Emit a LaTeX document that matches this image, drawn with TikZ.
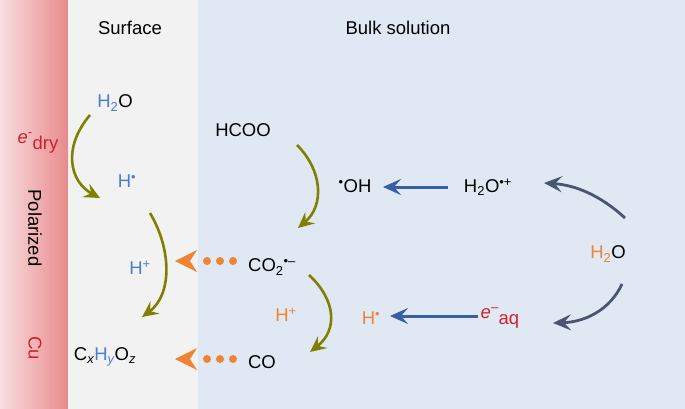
\documentclass[tikz,border=0pt]{standalone}
\usepackage{fontspec}
\setmainfont{Liberation Sans}
\usetikzlibrary{arrows.meta}
\definecolor{olv}{RGB}{128,128,0}
\definecolor{bl}{RGB}{58,93,168}
\definecolor{sl}{RGB}{72,86,112}
\definecolor{orn}{RGB}{238,132,52}
\definecolor{rd}{RGB}{208,32,42}
\definecolor{bt}{RGB}{74,127,208}
\definecolor{pk}{RGB}{248,222,224}
\definecolor{pr}{RGB}{232,138,140}
\definecolor{bbg}{RGB}{223,232,243}
\definecolor{gbg}{RGB}{242,242,242}
\begin{document}
\begin{tikzpicture}[x=1pt,y=-1pt,
 t/.style={font=\fontsize{18.5}{20}\selectfont,inner sep=0pt},
 ol/.style={draw=olv,line width=2.6pt,-{Stealth[length=16pt,width=15pt,inset=6pt]}},
 ba/.style={draw=bl,line width=3pt,-{Stealth[length=18pt,width=16pt,inset=7pt]}},
 sa/.style={draw=sl,line width=2.8pt,-{Stealth[length=18pt,width=16pt,inset=7pt]}},
 dot/.style={circle,fill=orn,inner sep=0pt,minimum size=8pt}]
\useasboundingbox (0,0) rectangle (685,409);
\shade[left color=pk,right color=pr] (0,0) rectangle (68,409);
\fill[gbg] (68,0) rectangle (198,409);
\fill[bbg] (198,0) rectangle (685,409);
\node[t] (surf) at (130,28) {Surface};
\node[t] (bulk) at (398,28) {Bulk solution};
\node[t,rotate=-90] (pol) at (35,228) {Polarized};
\node[t,rotate=-90,text=rd] (cu) at (35,348) {Cu};
\node[t,text=rd] (edry) at (38,143) {\textit{e}\textsuperscript{-}\raisebox{-0.6ex}{dry}};
\node[t] (h2o) at (115,103) {\textcolor{bt}{H\textsubscript{2}}O};
\node[t,text=bt] (hr) at (127,181) {H\textsuperscript{\textbullet}};
\node[t,text=bt] (hp) at (140,268) {H\textsuperscript{+}};
\node[t] (cxhy) at (105,357) {C\textsubscript{\itshape x}\textcolor{bt}{H\textsubscript{\itshape y}}O\textsubscript{\itshape z}};
\node[t] (hcoo) at (243,130) {HCOO};
\node[t] (co2) at (272,267) {CO\textsubscript{2}\textsuperscript{\textbullet–}};
\node[t,text=orn] (hp2) at (286,315) {H\textsuperscript{+}};
\node[t] (co) at (262,362) {CO};
\node[t] (oh) at (355,186) {\textsuperscript{\textbullet}OH};
\node[t] (h2op) at (488,187) {H\textsubscript{2}O\textsuperscript{\textbullet+}};
\node[t] (h2o2) at (608,254) {\textcolor{orn}{H\textsubscript{2}}O};
\node[t,text=orn] (hr2) at (371,318) {H\textsuperscript{\textbullet}};
\node[t,text=rd] (eaq) at (500,318) {\textit{e}\textsuperscript{–}\raisebox{-0.6ex}{aq}};
\coordinate (a1s) at (90,115); \coordinate (a1e) at (100,198);
\coordinate (a2s) at (150,213); \coordinate (a2e) at (142,317);
\coordinate (a3s) at (297,145); \coordinate (a3e) at (298,228);
\coordinate (a4s) at (309,275); \coordinate (a4e) at (310,352);
\draw[ol] (a1s) .. controls (62,148) and (70,182) .. (a1e);
\draw[ol] (a2s) .. controls (172,250) and (172,295) .. (a2e);
\draw[ol] (a3s) .. controls (322,170) and (325,205) .. (a3e);
\draw[ol] (a4s) .. controls (336,300) and (338,330) .. (a4e);
\draw[ba] (448,187) -- (383,187);
\draw[ba] (478,316) -- (390,316);
\draw[sa] (625,218) .. controls (600,195) and (575,185) .. (544,183);
\draw[sa] (622,284) .. controls (610,310) and (585,322) .. (553,323);
\foreach \y/\n in {261/p,359/q}{
 \node[dot] (\n1) at (207,\y) {}; \node[dot] (\n2) at (220,\y) {}; \node[dot] (\n3) at (233,\y) {};
 \fill[orn] (175,\y) -- (197,\y-11) -- (190,\y) -- (197,\y+11) -- cycle;}
\end{tikzpicture}
\end{document}
